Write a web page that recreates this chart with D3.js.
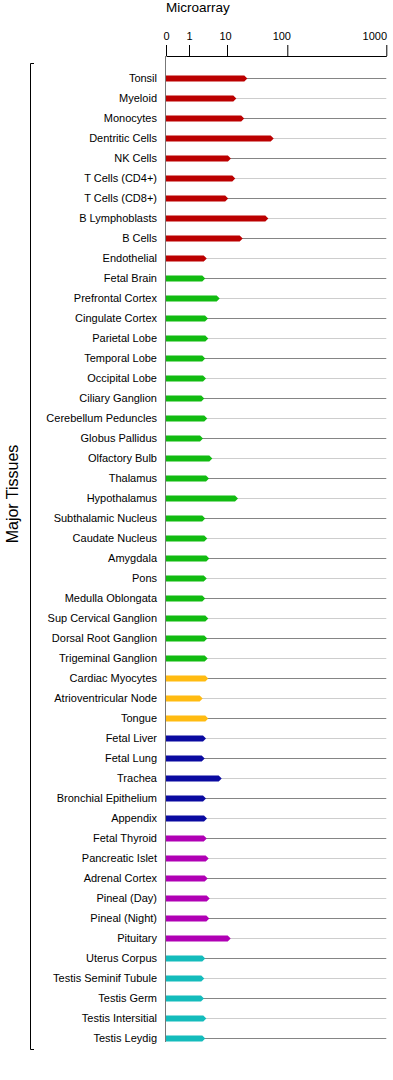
<!DOCTYPE html>
<html>
<head>
<meta charset="utf-8">
<script src="https://cdn.jsdelivr.net/npm/d3@7"></script>
<style>
  body { margin: 0; background: #fff; }
  svg text { font-family: "Liberation Sans", Arial, sans-serif; fill: #000; }
</style>
</head>
<body>
<div id="chart"></div>
<script>
// data
const tissues = ["Tonsil","Myeloid","Monocytes","Dentritic Cells","NK Cells","T Cells (CD4+)","T Cells (CD8+)","B Lymphoblasts","B Cells","Endothelial",
  "Fetal Brain","Prefrontal Cortex","Cingulate Cortex","Parietal Lobe","Temporal Lobe","Occipital Lobe","Ciliary Ganglion","Cerebellum Peduncles","Globus Pallidus","Olfactory Bulb",
  "Thalamus","Hypothalamus","Subthalamic Nucleus","Caudate Nucleus","Amygdala","Pons","Medulla Oblongata","Sup Cervical Ganglion","Dorsal Root Ganglion","Trigeminal Ganglion",
  "Cardiac Myocytes","Atrioventricular Node","Tongue",
  "Fetal Liver","Fetal Lung","Trachea","Bronchial Epithelium","Appendix",
  "Fetal Thyroid","Pancreatic Islet","Adrenal Cortex","Pineal (Day)","Pineal (Night)","Pituitary",
  "Uterus Corpus","Testis Seminif Tubule","Testis Germ","Testis Intersitial","Testis Leydig"];

const values = [22.2,14.5,19.7,60.2,11.7,13.9,10.5,49.2,18.6,3.43,
  3.15,6.93,3.69,3.75,3.15,3.29,2.97,3.54,2.75,4.69,
  3.9,15.5,3.15,3.54,3.97,3.43,3.15,3.75,3.54,3.63,
  3.75,2.7,3.75,
  3.29,3.04,7.67,3.29,3.48,
  3.43,3.84,3.63,4.06,3.97,11.6,
  3.15,2.97,2.92,3.35,3.15];

const groups = ["immune","immune","immune","immune","immune","immune","immune","immune","immune","immune",
  "neural","neural","neural","neural","neural","neural","neural","neural","neural","neural",
  "neural","neural","neural","neural","neural","neural","neural","neural","neural","neural",
  "muscle","muscle","muscle",
  "epith","epith","epith","epith","epith",
  "endocrine","endocrine","endocrine","endocrine","endocrine","endocrine",
  "repro","repro","repro","repro","repro"];

const tickValues = [0, 1, 10, 100, 1000];

const groupColor = {
  immune: "#bb0000", neural: "#11bb11", muscle: "#ffbb11",
  epith: "#0a0aa0", endocrine: "#b000b4", repro: "#14bcbc"
};

// dim
const W = 393, H = 1080;
const x0 = 166, rowTop = 78, rowStep = 20;

const svg = d3.select("#chart").append("svg")
  .attr("width", W).attr("height", H);

// piecewise log-ish axis, as in the reference
const tx = v => Math.log10(v + 1);
const x = d3.scaleLinear()
  .domain(tickValues.map(tx))
  .range([x0, x0 + 23, x0 + 61, x0 + 121.3, x0 + 220.3]);
const xv = v => x(tx(v));

const y = d3.scaleBand()
  .domain(tissues)
  .range([rowTop - rowStep / 2, rowTop - rowStep / 2 + rowStep * tissues.length]);
const yc = t => y(t) + y.bandwidth() / 2;

// title
svg.append("text")
  .attr("x", x0).attr("y", 12)
  .style("font-size", "13.5px")
  .text("Microarray");

// top axis
const axis = svg.append("g")
  .attr("transform", "translate(0,56)")
  .call(d3.axisTop(x)
    .tickValues(tickValues.map(tx))
    .tickFormat((d, i) => tickValues[i])
    .tickSize(11).tickSizeOuter(0).tickPadding(5));
axis.select(".domain").attr("stroke", "#000");
axis.selectAll(".tick line").attr("stroke", "#000");
// labels drift left as they get longer, like the original
const labelShift = [0, 0, -2, -6, -12];
axis.selectAll(".tick text")
  .attr("dx", (d, i) => labelShift[i])
  .style("font-size", "11px")
  .style("font-family", "'Liberation Sans', Arial, sans-serif");

// grid lines per row
svg.append("g").selectAll("line")
  .data(tissues)
  .join("line")
    .attr("x1", x0).attr("x2", x.range()[4])
    .attr("y1", d => yc(d) + 0.5).attr("y2", d => yc(d) + 0.5)
    .attr("stroke", (d, i) => i % 2 === 0 ? "#858585" : "#cdcdcd")
    .attr("stroke-width", 1);

// left axis line
svg.append("line")
  .attr("x1", x0 - 0.5).attr("x2", x0 - 0.5)
  .attr("y1", 56).attr("y2", yc(tissues[tissues.length - 1]) + 4)
  .attr("stroke", "#777");

// bars with pointed tip
svg.append("g").selectAll("path")
  .data(tissues)
  .join("path")
    .attr("d", (d, i) => {
      const cy = yc(d) + 0.5, xe = xv(values[i]);
      return `M${x0},${cy - 3}L${xe - 3},${cy - 3}L${xe},${cy}L${xe - 3},${cy + 3}L${x0},${cy + 3}Z`;
    })
    .attr("fill", (d, i) => groupColor[groups[i]]);

// labels
svg.append("g").selectAll("text")
  .data(tissues)
  .join("text")
    .attr("x", 157)
    .attr("y", d => yc(d))
    .attr("dy", "0.36em")
    .attr("text-anchor", "end")
    .style("font-size", "11px")
    .text(d => d);

// bracket
svg.append("path")
  .attr("d", "M34,63.5H30.5V1049.5H34")
  .attr("fill", "none").attr("stroke", "#000");

svg.append("text")
  .attr("transform", "translate(18,494)rotate(-90)")
  .attr("text-anchor", "middle")
  .style("font-size", "16px")
  .text("Major Tissues");
</script>
</body>
</html>
